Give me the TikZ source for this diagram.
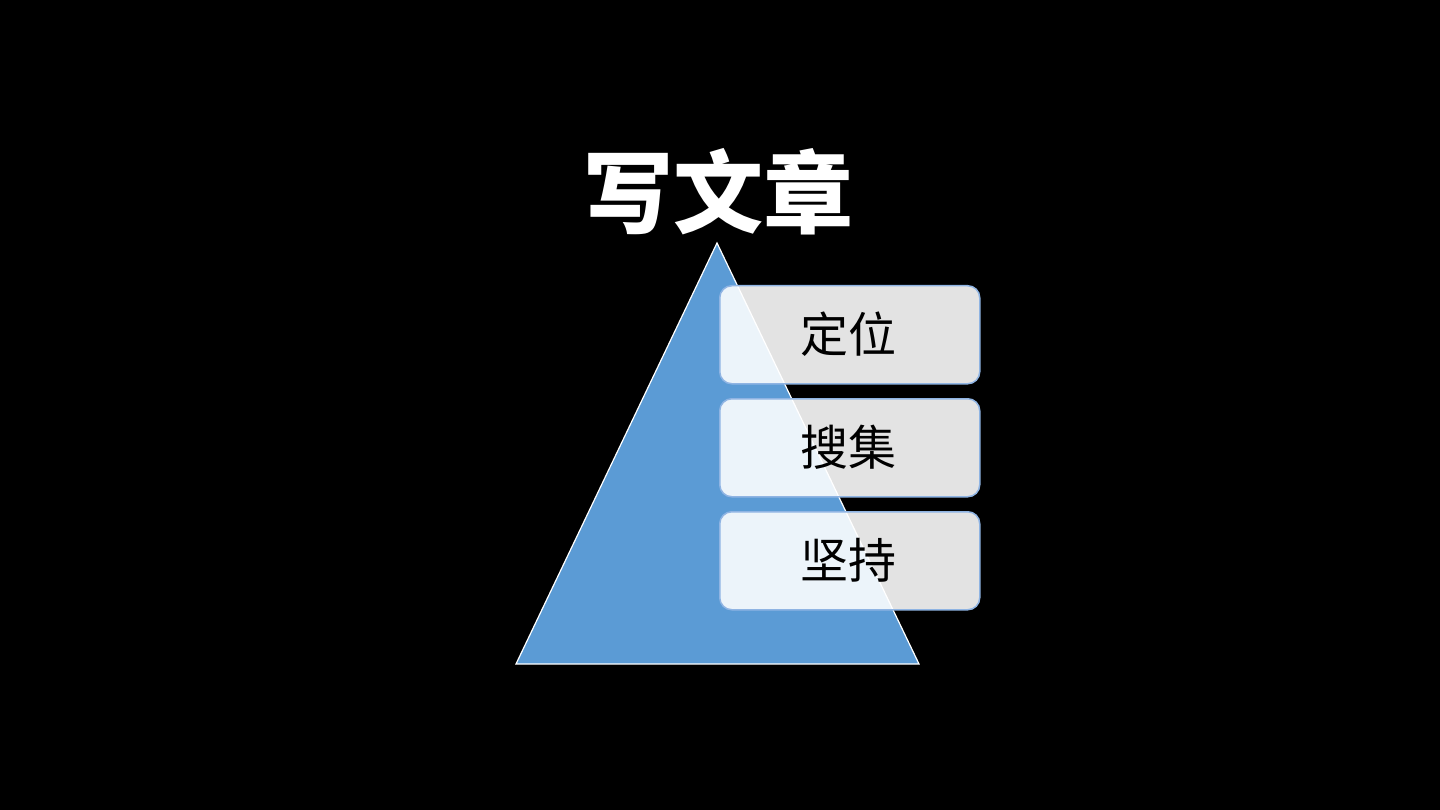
\documentclass[tikz,border=0pt]{standalone}
\usepackage{fontspec}
\newfontfamily\cjk{Noto Sans CJK SC}
\newfontfamily\cjkb{Noto Sans CJK SC Black}
\definecolor{tri}{HTML}{5B9BD5}
\definecolor{bord}{HTML}{8FB4E3}
\tikzset{lbox/.style={draw=bord,line width=1.5pt,fill=white,fill opacity=0.89,rounded corners=12pt,minimum width=260pt,minimum height=98pt,text opacity=1,anchor=north west,inner sep=0pt},
lab/.style={font=\cjk\fontsize{48}{48}\selectfont,text=black}}
\begin{document}
\begin{tikzpicture}[x=1pt,y=-1pt]
\fill[black] (0,0) rectangle (1440,810);
\useasboundingbox (0,0) rectangle (1440,810);
\node[font=\cjkb\fontsize{90}{90}\selectfont,text=white] (title) at (718,192) {写文章};
\draw[white,line width=1.2pt,fill=tri] (717,243) coordinate (apex) -- (516,664) coordinate (bl) -- (919,664) coordinate (br) -- cycle;
\node[lbox] (b1) at (719,285) {};
\node[lbox] (b2) at (719,398) {};
\node[lbox] (b3) at (719,511) {};
\node[lab] (t1) at (848,334) {定位};
\node[lab] (t2) at (848,447) {搜集};
\node[lab] (t3) at (848,560) {坚持};
\end{tikzpicture}
\end{document}
